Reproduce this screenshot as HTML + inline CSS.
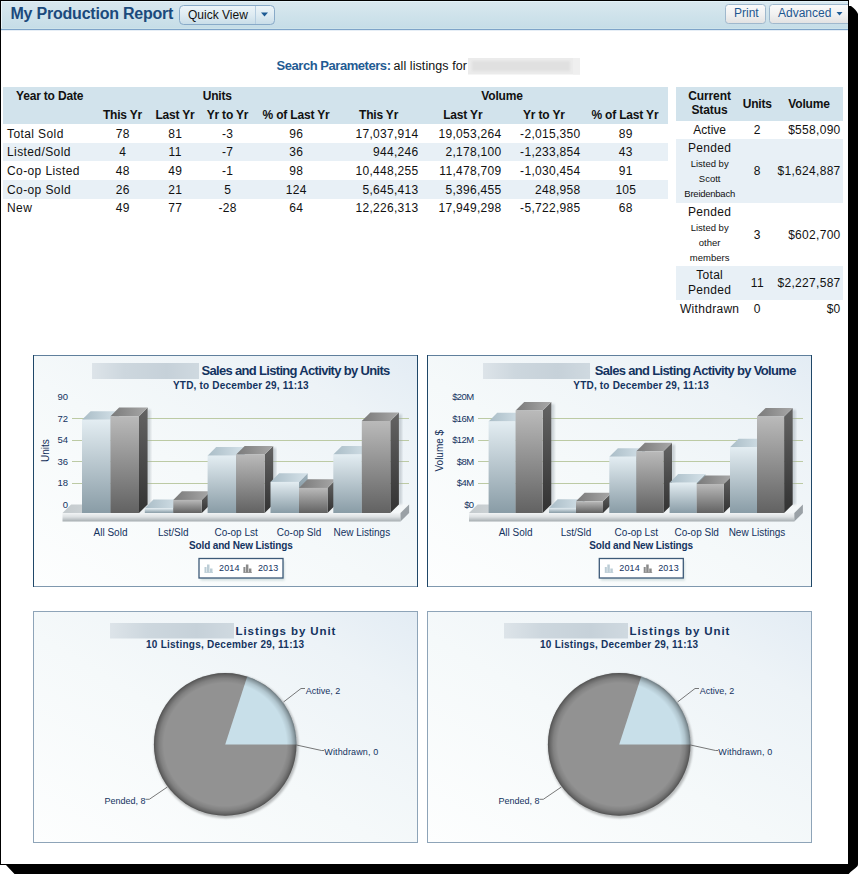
<!DOCTYPE html>
<html><head><meta charset="utf-8"><title>My Production Report</title>
<style>
html,body{margin:0;padding:0;width:864px;height:880px;overflow:hidden;background:#fff;font-family:"Liberation Sans", sans-serif;}
#shadow{position:absolute;left:0;top:0;}
#win{position:absolute;left:0;top:0;width:849px;height:865px;background:#fff;overflow:hidden;}
#win svg{position:absolute;left:0;top:0;}
text{font-family:"Liberation Sans", sans-serif;}
.bt{position:absolute;background:#000;}
</style></head><body>
<svg id="shadow" width="864" height="880"><path d="M6 6H851L853.5 8L855.5 10L857 12L858 14V864.3L857.6 866L855.5 868L853 870L850.5 872L848.7 874H14.5L6 865Z" fill="#000"/></svg>
<div id="win">
<svg width="864" height="880" viewBox="0 0 864 880">

<defs>
 <linearGradient id="hdr" x1="0" y1="0" x2="0" y2="1">
  <stop offset="0" stop-color="#d9e8ef"/><stop offset="1" stop-color="#c5dde7"/>
 </linearGradient>
 <linearGradient id="btn" x1="0" y1="0" x2="0" y2="1">
  <stop offset="0" stop-color="#edf5f9"/><stop offset="0.5" stop-color="#deebf2"/><stop offset="1" stop-color="#c8dde8"/>
 </linearGradient>
 <linearGradient id="btn2" x1="0" y1="0" x2="0" y2="1">
  <stop offset="0" stop-color="#fbfbfb"/><stop offset="0.5" stop-color="#f1f1f1"/><stop offset="1" stop-color="#e2e2e2"/>
 </linearGradient>
 <linearGradient id="chbg" x1="0" y1="1" x2="1" y2="0">
  <stop offset="0" stop-color="#fdfefe"/><stop offset="0.45" stop-color="#f5f9fa"/><stop offset="0.8" stop-color="#edf3f7"/><stop offset="1" stop-color="#e3ecf4"/>
 </linearGradient>
 <linearGradient id="blur" x1="0" y1="0" x2="1" y2="0">
  <stop offset="0" stop-color="#dde4e9"/><stop offset="0.3" stop-color="#cdd7de"/><stop offset="0.7" stop-color="#c6d1d9"/><stop offset="1" stop-color="#cfd9e0"/>
 </linearGradient>
 <linearGradient id="lf" x1="0" y1="0" x2="0" y2="1">
  <stop offset="0" stop-color="#e3edf2"/><stop offset="1" stop-color="#899ca6"/>
 </linearGradient>
 <linearGradient id="lfh" x1="0" y1="0" x2="1" y2="0">
  <stop offset="0" stop-color="#000" stop-opacity="0.06"/><stop offset="0.5" stop-color="#fff" stop-opacity="0.08"/><stop offset="1" stop-color="#000" stop-opacity="0.04"/>
 </linearGradient>
 <linearGradient id="lt" x1="0" y1="0" x2="1" y2="0">
  <stop offset="0" stop-color="#aabdc7"/><stop offset="1" stop-color="#d5e2e9"/>
 </linearGradient>
 <linearGradient id="df" x1="0" y1="0" x2="0" y2="1">
  <stop offset="0" stop-color="#bababa"/><stop offset="1" stop-color="#626262"/>
 </linearGradient>
 <linearGradient id="dt" x1="0" y1="0" x2="1" y2="0">
  <stop offset="0" stop-color="#7a7a7a"/><stop offset="1" stop-color="#a8a8a8"/>
 </linearGradient>
 <linearGradient id="ds" x1="0" y1="0" x2="0" y2="1">
  <stop offset="0" stop-color="#646464"/><stop offset="1" stop-color="#323232"/>
 </linearGradient>
 <linearGradient id="ls" x1="0" y1="0" x2="0" y2="1">
  <stop offset="0" stop-color="#9fb2bc"/><stop offset="1" stop-color="#6d808a"/>
 </linearGradient>
 <linearGradient id="floorf" x1="0" y1="0" x2="0" y2="1">
  <stop offset="0" stop-color="#f2f4f5"/><stop offset="0.45" stop-color="#dde1e3"/><stop offset="1" stop-color="#a5acb0"/>
 </linearGradient>
 <linearGradient id="floort" x1="0" y1="0" x2="1" y2="0">
  <stop offset="0" stop-color="#c4cacd"/><stop offset="0.055" stop-color="#cad0d3"/><stop offset="0.1" stop-color="#eaeef0"/><stop offset="1" stop-color="#f4f7f8"/>
 </linearGradient>
 <radialGradient id="pierim" cx="0.5" cy="0.5" r="0.5">
  <stop offset="0.86" stop-color="#000" stop-opacity="0"/><stop offset="0.925" stop-color="#000" stop-opacity="0.12"/><stop offset="0.972" stop-color="#000" stop-opacity="0.3"/><stop offset="1" stop-color="#000" stop-opacity="0.45"/>
 </radialGradient>
 <filter id="sh" x="-10%" y="-10%" width="130%" height="130%"><feGaussianBlur stdDeviation="1"/></filter>
 <filter id="sb" x="-5%" y="-20%" width="110%" height="140%"><feGaussianBlur stdDeviation="0.5"/></filter>
</defs>

<rect x="1" y="1" width="847" height="28" fill="url(#hdr)"/>
<rect x="1" y="1" width="847" height="1" fill="#e3f2f9"/>
<rect x="1" y="1" width="1" height="28" fill="#eaf5fa"/>
<rect x="1" y="28" width="847" height="1" fill="#cde3ea"/>
<rect x="1" y="29" width="847" height="1" fill="#7ea4c9"/>
<rect x="1" y="30" width="847" height="1" fill="#e6eef6"/>
<text x="10.5" y="19" font-size="16" font-weight="bold" fill="#1b4a7c" letter-spacing="-0.22">My Production Report</text>
<rect x="179.5" y="5.5" width="95" height="19" rx="4" fill="url(#btn)" stroke="#88aac8"/>
<rect x="255" y="6" width="1" height="18" fill="#b5cde0"/>
<text x="188" y="19" font-size="12" fill="#111">Quick View</text>
<path d="M261 12.5h7l-3.5 4z" fill="#1d5a94"/>
<rect x="725.5" y="4.5" width="40" height="19" rx="3" fill="url(#btn2)" stroke="#9fb8cd"/>
<text x="734" y="17" font-size="12" fill="#1d5790">Print</text>
<rect x="769.5" y="4.5" width="90" height="19" rx="3" fill="url(#btn2)" stroke="#9fb8cd"/>
<text x="778" y="17" font-size="12" fill="#1d5790">Advanced</text>
<path d="M836.5 12h6l-3 3.5z" fill="#1d5a94"/>
<text x="276.5" y="70" font-size="13" font-weight="bold" fill="#1f5b93" letter-spacing="-0.45">Search Parameters:</text>
<text x="393.5" y="70" font-size="12.5" fill="#111" letter-spacing="0.08">all listings for</text>
<rect x="468" y="58" width="112" height="16.5" fill="#ebebeb"/>
<rect x="472" y="61" width="98" height="10" fill="#e0e0e0" filter="url(#sh)"/>
<rect x="573" y="58" width="7" height="16.5" fill="#efefef"/>
<rect x="3" y="87" width="665" height="37" fill="#d2e3ec"/>
<rect x="3" y="143" width="665" height="18" fill="#e8f0f6"/>
<rect x="3" y="180" width="665" height="19" fill="#e8f0f6"/>
<text x="16" y="100" font-size="12" font-weight="bold" fill="#111" letter-spacing="-0.18">Year to Date</text>
<text x="217.3" y="100" font-size="12" font-weight="bold" text-anchor="middle" fill="#111" letter-spacing="-0.18">Units</text>
<text x="502" y="100" font-size="12" font-weight="bold" text-anchor="middle" fill="#111" letter-spacing="-0.18">Volume</text>
<text x="122.5" y="119" font-size="12" font-weight="bold" text-anchor="middle" fill="#111" letter-spacing="-0.18">This Yr</text>
<text x="175" y="119" font-size="12" font-weight="bold" text-anchor="middle" fill="#111" letter-spacing="-0.18">Last Yr</text>
<text x="227.5" y="119" font-size="12" font-weight="bold" text-anchor="middle" fill="#111" letter-spacing="-0.18">Yr to Yr</text>
<text x="296" y="119" font-size="12" font-weight="bold" text-anchor="middle" fill="#111" letter-spacing="-0.18">% of Last Yr</text>
<text x="378.6" y="119" font-size="12" font-weight="bold" text-anchor="middle" fill="#111" letter-spacing="-0.18">This Yr</text>
<text x="462.8" y="119" font-size="12" font-weight="bold" text-anchor="middle" fill="#111" letter-spacing="-0.18">Last Yr</text>
<text x="543.9" y="119" font-size="12" font-weight="bold" text-anchor="middle" fill="#111" letter-spacing="-0.18">Yr to Yr</text>
<text x="624.9" y="119" font-size="12" font-weight="bold" text-anchor="middle" fill="#111" letter-spacing="-0.18">% of Last Yr</text>
<text x="7" y="137.8" font-size="12" fill="#111" letter-spacing="0.4">Total Sold</text>
<text x="122.65" y="137.8" font-size="12" text-anchor="middle" fill="#111" letter-spacing="0.3">78</text>
<text x="175.15" y="137.8" font-size="12" text-anchor="middle" fill="#111" letter-spacing="0.3">81</text>
<text x="227.65" y="137.8" font-size="12" text-anchor="middle" fill="#111" letter-spacing="0.3">-3</text>
<text x="296.15" y="137.8" font-size="12" text-anchor="middle" fill="#111" letter-spacing="0.3">96</text>
<text x="418.5" y="137.8" font-size="12" text-anchor="end" fill="#111" letter-spacing="0.3">17,037,914</text>
<text x="501.5" y="137.8" font-size="12" text-anchor="end" fill="#111" letter-spacing="0.3">19,053,264</text>
<text x="580.5" y="137.8" font-size="12" text-anchor="end" fill="#111" letter-spacing="0.3">-2,015,350</text>
<text x="625.85" y="137.8" font-size="12" text-anchor="middle" fill="#111" letter-spacing="0.3">89</text>
<text x="7" y="156.3" font-size="12" fill="#111" letter-spacing="0.4">Listed/Sold</text>
<text x="122.65" y="156.3" font-size="12" text-anchor="middle" fill="#111" letter-spacing="0.3">4</text>
<text x="175.15" y="156.3" font-size="12" text-anchor="middle" fill="#111" letter-spacing="0.3">11</text>
<text x="227.65" y="156.3" font-size="12" text-anchor="middle" fill="#111" letter-spacing="0.3">-7</text>
<text x="296.15" y="156.3" font-size="12" text-anchor="middle" fill="#111" letter-spacing="0.3">36</text>
<text x="418.5" y="156.3" font-size="12" text-anchor="end" fill="#111" letter-spacing="0.3">944,246</text>
<text x="501.5" y="156.3" font-size="12" text-anchor="end" fill="#111" letter-spacing="0.3">2,178,100</text>
<text x="580.5" y="156.3" font-size="12" text-anchor="end" fill="#111" letter-spacing="0.3">-1,233,854</text>
<text x="625.85" y="156.3" font-size="12" text-anchor="middle" fill="#111" letter-spacing="0.3">43</text>
<text x="7" y="174.8" font-size="12" fill="#111" letter-spacing="0.4">Co-op Listed</text>
<text x="122.65" y="174.8" font-size="12" text-anchor="middle" fill="#111" letter-spacing="0.3">48</text>
<text x="175.15" y="174.8" font-size="12" text-anchor="middle" fill="#111" letter-spacing="0.3">49</text>
<text x="227.65" y="174.8" font-size="12" text-anchor="middle" fill="#111" letter-spacing="0.3">-1</text>
<text x="296.15" y="174.8" font-size="12" text-anchor="middle" fill="#111" letter-spacing="0.3">98</text>
<text x="418.5" y="174.8" font-size="12" text-anchor="end" fill="#111" letter-spacing="0.3">10,448,255</text>
<text x="501.5" y="174.8" font-size="12" text-anchor="end" fill="#111" letter-spacing="0.3">11,478,709</text>
<text x="580.5" y="174.8" font-size="12" text-anchor="end" fill="#111" letter-spacing="0.3">-1,030,454</text>
<text x="625.85" y="174.8" font-size="12" text-anchor="middle" fill="#111" letter-spacing="0.3">91</text>
<text x="7" y="193.8" font-size="12" fill="#111" letter-spacing="0.4">Co-op Sold</text>
<text x="122.65" y="193.8" font-size="12" text-anchor="middle" fill="#111" letter-spacing="0.3">26</text>
<text x="175.15" y="193.8" font-size="12" text-anchor="middle" fill="#111" letter-spacing="0.3">21</text>
<text x="227.65" y="193.8" font-size="12" text-anchor="middle" fill="#111" letter-spacing="0.3">5</text>
<text x="296.15" y="193.8" font-size="12" text-anchor="middle" fill="#111" letter-spacing="0.3">124</text>
<text x="418.5" y="193.8" font-size="12" text-anchor="end" fill="#111" letter-spacing="0.3">5,645,413</text>
<text x="501.5" y="193.8" font-size="12" text-anchor="end" fill="#111" letter-spacing="0.3">5,396,455</text>
<text x="580.5" y="193.8" font-size="12" text-anchor="end" fill="#111" letter-spacing="0.3">248,958</text>
<text x="625.85" y="193.8" font-size="12" text-anchor="middle" fill="#111" letter-spacing="0.3">105</text>
<text x="7" y="212.3" font-size="12" fill="#111" letter-spacing="0.4">New</text>
<text x="122.65" y="212.3" font-size="12" text-anchor="middle" fill="#111" letter-spacing="0.3">49</text>
<text x="175.15" y="212.3" font-size="12" text-anchor="middle" fill="#111" letter-spacing="0.3">77</text>
<text x="227.65" y="212.3" font-size="12" text-anchor="middle" fill="#111" letter-spacing="0.3">-28</text>
<text x="296.15" y="212.3" font-size="12" text-anchor="middle" fill="#111" letter-spacing="0.3">64</text>
<text x="418.5" y="212.3" font-size="12" text-anchor="end" fill="#111" letter-spacing="0.3">12,226,313</text>
<text x="501.5" y="212.3" font-size="12" text-anchor="end" fill="#111" letter-spacing="0.3">17,949,298</text>
<text x="580.5" y="212.3" font-size="12" text-anchor="end" fill="#111" letter-spacing="0.3">-5,722,985</text>
<text x="625.85" y="212.3" font-size="12" text-anchor="middle" fill="#111" letter-spacing="0.3">68</text>
<rect x="676" y="87" width="167" height="34" fill="#d2e3ec"/>
<rect x="676" y="139" width="167" height="64" fill="#e8f0f6"/>
<rect x="676" y="266" width="167" height="34" fill="#e8f0f6"/>
<text x="709.5" y="99.5" font-size="12" font-weight="bold" text-anchor="middle" fill="#111" letter-spacing="-0.1">Current</text>
<text x="709.5" y="114.3" font-size="12" font-weight="bold" text-anchor="middle" fill="#111" letter-spacing="-0.1">Status</text>
<text x="757.2" y="107.6" font-size="12" font-weight="bold" text-anchor="middle" fill="#111" letter-spacing="-0.18">Units</text>
<text x="809" y="107.6" font-size="12" font-weight="bold" text-anchor="middle" fill="#111" letter-spacing="-0.18">Volume</text>
<text x="709.65" y="134" font-size="12" text-anchor="middle" fill="#111">Active</text>
<text x="757.35" y="134" font-size="12" text-anchor="middle" fill="#111" letter-spacing="0.3">2</text>
<text x="840.6" y="134" font-size="12" text-anchor="end" fill="#111" letter-spacing="0.3">$558,090</text>
<text x="709.65" y="151.5" font-size="12" text-anchor="middle" fill="#111" letter-spacing="0.3">Pended</text>
<text x="709.65" y="167.3" font-size="9.5" text-anchor="middle" fill="#111">Listed by</text>
<text x="709.65" y="182.3" font-size="9.5" text-anchor="middle" fill="#111">Scott</text>
<text x="709.65" y="197.3" font-size="9.5" text-anchor="middle" fill="#111" letter-spacing="-0.25">Breidenbach</text>
<text x="757.35" y="175" font-size="12" text-anchor="middle" fill="#111" letter-spacing="0.3">8</text>
<text x="840.6" y="175" font-size="12" text-anchor="end" fill="#111" letter-spacing="0.3">$1,624,887</text>
<text x="709.65" y="215.5" font-size="12" text-anchor="middle" fill="#111" letter-spacing="0.3">Pended</text>
<text x="709.65" y="231.3" font-size="9.5" text-anchor="middle" fill="#111">Listed by</text>
<text x="709.65" y="246.3" font-size="9.5" text-anchor="middle" fill="#111">other</text>
<text x="709.65" y="261.3" font-size="9.5" text-anchor="middle" fill="#111">members</text>
<text x="757.35" y="239" font-size="12" text-anchor="middle" fill="#111" letter-spacing="0.3">3</text>
<text x="840.6" y="239" font-size="12" text-anchor="end" fill="#111" letter-spacing="0.3">$602,700</text>
<text x="709.65" y="279.4" font-size="12" text-anchor="middle" fill="#111" letter-spacing="0.3">Total</text>
<text x="709.65" y="294" font-size="12" text-anchor="middle" fill="#111" letter-spacing="0.3">Pended</text>
<text x="757.35" y="286.5" font-size="12" text-anchor="middle" fill="#111" letter-spacing="0.3">11</text>
<text x="840.6" y="286.5" font-size="12" text-anchor="end" fill="#111" letter-spacing="0.3">$2,227,587</text>
<text x="709.65" y="313" font-size="12" text-anchor="middle" fill="#111" letter-spacing="0.3">Withdrawn</text>
<text x="757.35" y="313" font-size="12" text-anchor="middle" fill="#111" letter-spacing="0.3">0</text>
<text x="840.6" y="313" font-size="12" text-anchor="end" fill="#111" letter-spacing="0.3">$0</text>
<rect x="33.5" y="355.5" width="384" height="231" fill="url(#chbg)" stroke="#7f98ae"/>
<rect x="33" y="355" width="385" height="1" fill="#5f7f9c"/>
<rect x="33" y="355" width="1" height="232" fill="#1f4768"/>
<rect x="417" y="355" width="1" height="232" fill="#1f4768"/>
<rect x="92" y="363" width="107" height="16" fill="url(#blur)" filter="url(#sb)"/>
<text x="201.5" y="375.3" font-size="13" font-weight="bold" fill="#14335f" letter-spacing="-0.68">Sales and Listing Activity by Units</text>
<text x="240.9" y="388.6" font-size="10" font-weight="bold" text-anchor="middle" fill="#14335f" letter-spacing="0.2">YTD, to December 29, 11:13</text>
<text x="68" y="507.5" font-size="9.5" text-anchor="end" fill="#14335f">0</text>
<rect x="72" y="483" width="337" height="1" fill="#bccaa4"/>
<text x="68" y="486.0" font-size="9.5" text-anchor="end" fill="#14335f">18</text>
<rect x="72" y="461" width="337" height="1" fill="#bccaa4"/>
<text x="68" y="464.5" font-size="9.5" text-anchor="end" fill="#14335f">36</text>
<rect x="72" y="440" width="337" height="1" fill="#bccaa4"/>
<text x="68" y="443.0" font-size="9.5" text-anchor="end" fill="#14335f">54</text>
<rect x="72" y="418" width="337" height="1" fill="#bccaa4"/>
<text x="68" y="421.5" font-size="9.5" text-anchor="end" fill="#14335f">72</text>
<text x="68" y="400.0" font-size="9.5" text-anchor="end" fill="#14335f">90</text>
<text x="0" y="0" font-size="10" fill="#14305a" text-anchor="middle" transform="translate(49.3,450.7) rotate(-90)">Units</text>
<path d="M62.5 513 L71.1 504.4 L409.1 504.4 L400.5 513 Z" fill="url(#floort)"/>
<rect x="62.5" y="513" width="338.0" height="8.5" fill="url(#floorf)"/>
<path d="M400.5 513 L409.1 504.4 L409.1 512.9 L400.5 521.5 Z" fill="#9aa1a6"/>
<path d="M110.5 419.8 L119.1 411.2 L119.1 504.4 L110.5 513 Z" fill="url(#ls)"/>
<path d="M82.0 419.8 L90.6 411.2 L119.1 411.2 L110.5 419.8 Z" fill="url(#lt)"/>
<rect x="82.0" y="419.8" width="28.5" height="93.2" fill="url(#lf)"/>
<rect x="146.6" y="409.6" width="4" height="94.8" fill="#9aa4ab" opacity="0.45" filter="url(#sh)"/>
<path d="M139.0 416.2 L147.6 407.6 L147.6 504.4 L139.0 513 Z" fill="url(#ds)"/>
<path d="M110.5 416.2 L119.1 407.6 L147.6 407.6 L139.0 416.2 Z" fill="url(#dt)"/>
<rect x="110.5" y="416.2" width="28.5" height="96.8" fill="url(#df)"/>
<path d="M173.3 508.2 L181.9 499.6 L181.9 504.4 L173.3 513 Z" fill="url(#ls)"/>
<path d="M144.8 508.2 L153.4 499.6 L181.9 499.6 L173.3 508.2 Z" fill="url(#lt)"/>
<rect x="144.8" y="508.2" width="28.5" height="4.8" fill="url(#lf)"/>
<rect x="209.4" y="493.3" width="4" height="11.1" fill="#9aa4ab" opacity="0.45" filter="url(#sh)"/>
<path d="M201.8 499.9 L210.4 491.3 L210.4 504.4 L201.8 513 Z" fill="url(#ds)"/>
<path d="M173.3 499.9 L181.9 491.3 L210.4 491.3 L201.8 499.9 Z" fill="url(#dt)"/>
<rect x="173.3" y="499.9" width="28.5" height="13.1" fill="url(#df)"/>
<path d="M236.1 455.7 L244.7 447.1 L244.7 504.4 L236.1 513 Z" fill="url(#ls)"/>
<path d="M207.6 455.7 L216.2 447.1 L244.7 447.1 L236.1 455.7 Z" fill="url(#lt)"/>
<rect x="207.6" y="455.7" width="28.5" height="57.3" fill="url(#lf)"/>
<rect x="272.2" y="447.9" width="4" height="56.5" fill="#9aa4ab" opacity="0.45" filter="url(#sh)"/>
<path d="M264.6 454.5 L273.2 445.9 L273.2 504.4 L264.6 513 Z" fill="url(#ds)"/>
<path d="M236.1 454.5 L244.7 445.9 L273.2 445.9 L264.6 454.5 Z" fill="url(#dt)"/>
<rect x="236.1" y="454.5" width="28.5" height="58.5" fill="url(#df)"/>
<path d="M299.0 481.9 L307.6 473.3 L307.6 504.4 L299.0 513 Z" fill="url(#ls)"/>
<path d="M270.5 481.9 L279.1 473.3 L307.6 473.3 L299.0 481.9 Z" fill="url(#lt)"/>
<rect x="270.5" y="481.9" width="28.5" height="31.1" fill="url(#lf)"/>
<rect x="335.1" y="481.3" width="4" height="23.1" fill="#9aa4ab" opacity="0.45" filter="url(#sh)"/>
<path d="M327.5 487.9 L336.1 479.3 L336.1 504.4 L327.5 513 Z" fill="url(#ds)"/>
<path d="M299.0 487.9 L307.6 479.3 L336.1 479.3 L327.5 487.9 Z" fill="url(#dt)"/>
<rect x="299.0" y="487.9" width="28.5" height="25.1" fill="url(#df)"/>
<path d="M361.8 454.5 L370.4 445.9 L370.4 504.4 L361.8 513 Z" fill="url(#ls)"/>
<path d="M333.3 454.5 L341.9 445.9 L370.4 445.9 L361.8 454.5 Z" fill="url(#lt)"/>
<rect x="333.3" y="454.5" width="28.5" height="58.5" fill="url(#lf)"/>
<rect x="397.9" y="414.4" width="4" height="90.0" fill="#9aa4ab" opacity="0.45" filter="url(#sh)"/>
<path d="M390.3 421.0 L398.9 412.4 L398.9 504.4 L390.3 513 Z" fill="url(#ds)"/>
<path d="M361.8 421.0 L370.4 412.4 L398.9 412.4 L390.3 421.0 Z" fill="url(#dt)"/>
<rect x="361.8" y="421.0" width="28.5" height="92.0" fill="url(#df)"/>
<text x="110.5" y="536" font-size="10" text-anchor="middle" fill="#14335f">All Sold</text>
<text x="173.3" y="536" font-size="10" text-anchor="middle" fill="#14335f">Lst/Sld</text>
<text x="236.1" y="536" font-size="10" text-anchor="middle" fill="#14335f">Co-op Lst</text>
<text x="299.0" y="536" font-size="10" text-anchor="middle" fill="#14335f">Co-op Sld</text>
<text x="361.8" y="536" font-size="10" text-anchor="middle" fill="#14335f">New Listings</text>
<text x="240.8" y="549" font-size="10" font-weight="bold" text-anchor="middle" fill="#14335f" letter-spacing="-0.15">Sold and New Listings</text>
<rect x="200.5" y="560.5" width="84" height="20" fill="#8aa" opacity="0.35" filter="url(#sh)"/>
<rect x="199" y="558.5" width="84" height="19.5" fill="#fff" stroke="#3d5a78" stroke-width="1.3"/>
<rect x="204.5" y="567" width="2" height="5.5" fill="#bccdd6"/><rect x="207.0" y="564.5" width="2.5" height="8" fill="#bccdd6"/><rect x="210.0" y="568.5" width="2.5" height="4" fill="#bccdd6"/><rect x="204.5" y="572" width="8.5" height="0.8" fill="#bccdd6"/>
<text x="219" y="570.8" font-size="9" fill="#14335f" letter-spacing="0.15">2014</text>
<rect x="243.4" y="567" width="2" height="5.5" fill="#8a8a8a"/><rect x="245.9" y="564.5" width="2.5" height="8" fill="#8a8a8a"/><rect x="248.9" y="568.5" width="2.5" height="4" fill="#8a8a8a"/><rect x="243.4" y="572" width="8.5" height="0.8" fill="#8a8a8a"/>
<text x="257.9" y="570.8" font-size="9" fill="#14335f" letter-spacing="0.15">2013</text>
<rect x="427.5" y="355.5" width="384" height="231" fill="url(#chbg)" stroke="#7f98ae"/>
<rect x="427" y="355" width="385" height="1" fill="#5f7f9c"/>
<rect x="427" y="355" width="1" height="232" fill="#1f4768"/>
<rect x="811" y="355" width="1" height="232" fill="#1f4768"/>
<rect x="483" y="363" width="107" height="16" fill="url(#blur)" filter="url(#sb)"/>
<text x="594.8" y="375.3" font-size="13" font-weight="bold" fill="#14335f" letter-spacing="-0.68">Sales and Listing Activity by Volume</text>
<text x="641.2" y="388.6" font-size="10" font-weight="bold" text-anchor="middle" fill="#14335f" letter-spacing="0.2">YTD, to December 29, 11:13</text>
<text x="473.5" y="507.5" font-size="9.5" text-anchor="end" fill="#14335f" letter-spacing="-0.6">$0</text>
<rect x="478" y="483" width="325" height="1" fill="#bccaa4"/>
<text x="473.5" y="486.0" font-size="9.5" text-anchor="end" fill="#14335f" letter-spacing="-0.6">$4M</text>
<rect x="478" y="461" width="325" height="1" fill="#bccaa4"/>
<text x="473.5" y="464.5" font-size="9.5" text-anchor="end" fill="#14335f" letter-spacing="-0.6">$8M</text>
<rect x="478" y="440" width="325" height="1" fill="#bccaa4"/>
<text x="473.5" y="443.0" font-size="9.5" text-anchor="end" fill="#14335f" letter-spacing="-0.6">$12M</text>
<rect x="478" y="418" width="325" height="1" fill="#bccaa4"/>
<text x="473.5" y="421.5" font-size="9.5" text-anchor="end" fill="#14335f" letter-spacing="-0.6">$16M</text>
<text x="473.5" y="400.0" font-size="9.5" text-anchor="end" fill="#14335f" letter-spacing="-0.6">$20M</text>
<text x="0" y="0" font-size="10" fill="#14305a" text-anchor="middle" transform="translate(442.8,450.7) rotate(-90)">Volume $</text>
<path d="M469 513 L477.6 504.4 L802.9 504.4 L794.3 513 Z" fill="url(#floort)"/>
<rect x="469" y="513" width="325.29999999999995" height="8.5" fill="url(#floorf)"/>
<path d="M794.3 513 L802.9 504.4 L802.9 512.9 L794.3 521.5 Z" fill="#9aa1a6"/>
<path d="M515.6 421.4 L524.2 412.8 L524.2 504.4 L515.6 513 Z" fill="url(#ls)"/>
<path d="M488.6 421.4 L497.2 412.8 L524.2 412.8 L515.6 421.4 Z" fill="url(#lt)"/>
<rect x="488.6" y="421.4" width="27.05" height="91.6" fill="url(#lf)"/>
<rect x="550.3" y="404.0" width="4" height="100.4" fill="#9aa4ab" opacity="0.45" filter="url(#sh)"/>
<path d="M542.7 410.6 L551.3 402.0 L551.3 504.4 L542.7 513 Z" fill="url(#ds)"/>
<path d="M515.6 410.6 L524.2 402.0 L551.3 402.0 L542.7 410.6 Z" fill="url(#dt)"/>
<rect x="515.6" y="410.6" width="27.05" height="102.4" fill="url(#df)"/>
<path d="M576.0 507.9 L584.6 499.3 L584.6 504.4 L576.0 513 Z" fill="url(#ls)"/>
<path d="M549.0 507.9 L557.6 499.3 L584.6 499.3 L576.0 507.9 Z" fill="url(#lt)"/>
<rect x="549.0" y="507.9" width="27.05" height="5.1" fill="url(#lf)"/>
<rect x="610.6" y="494.7" width="4" height="9.7" fill="#9aa4ab" opacity="0.45" filter="url(#sh)"/>
<path d="M603.0 501.3 L611.6 492.7 L611.6 504.4 L603.0 513 Z" fill="url(#ds)"/>
<path d="M576.0 501.3 L584.6 492.7 L611.6 492.7 L603.0 501.3 Z" fill="url(#dt)"/>
<rect x="576.0" y="501.3" width="27.05" height="11.7" fill="url(#df)"/>
<path d="M636.3 456.8 L644.9 448.2 L644.9 504.4 L636.3 513 Z" fill="url(#ls)"/>
<path d="M609.3 456.8 L617.9 448.2 L644.9 448.2 L636.3 456.8 Z" fill="url(#lt)"/>
<rect x="609.3" y="456.8" width="27.05" height="56.2" fill="url(#lf)"/>
<rect x="671.0" y="444.7" width="4" height="59.7" fill="#9aa4ab" opacity="0.45" filter="url(#sh)"/>
<path d="M663.4 451.3 L672.0 442.7 L672.0 504.4 L663.4 513 Z" fill="url(#ds)"/>
<path d="M636.3 451.3 L644.9 442.7 L672.0 442.7 L663.4 451.3 Z" fill="url(#dt)"/>
<rect x="636.3" y="451.3" width="27.05" height="61.7" fill="url(#df)"/>
<path d="M696.7 482.7 L705.3 474.1 L705.3 504.4 L696.7 513 Z" fill="url(#ls)"/>
<path d="M669.6 482.7 L678.2 474.1 L705.3 474.1 L696.7 482.7 Z" fill="url(#lt)"/>
<rect x="669.6" y="482.7" width="27.05" height="30.3" fill="url(#lf)"/>
<rect x="731.3" y="477.4" width="4" height="27.0" fill="#9aa4ab" opacity="0.45" filter="url(#sh)"/>
<path d="M723.7 484.0 L732.3 475.4 L732.3 504.4 L723.7 513 Z" fill="url(#ds)"/>
<path d="M696.7 484.0 L705.3 475.4 L732.3 475.4 L723.7 484.0 Z" fill="url(#dt)"/>
<rect x="696.7" y="484.0" width="27.05" height="29.0" fill="url(#df)"/>
<path d="M757.0 447.3 L765.6 438.7 L765.6 504.4 L757.0 513 Z" fill="url(#ls)"/>
<path d="M730.0 447.3 L738.6 438.7 L765.6 438.7 L757.0 447.3 Z" fill="url(#lt)"/>
<rect x="730.0" y="447.3" width="27.05" height="65.7" fill="url(#lf)"/>
<rect x="791.7" y="409.9" width="4" height="94.5" fill="#9aa4ab" opacity="0.45" filter="url(#sh)"/>
<path d="M784.1 416.5 L792.7 407.9 L792.7 504.4 L784.1 513 Z" fill="url(#ds)"/>
<path d="M757.0 416.5 L765.6 407.9 L792.7 407.9 L784.1 416.5 Z" fill="url(#dt)"/>
<rect x="757.0" y="416.5" width="27.05" height="96.5" fill="url(#df)"/>
<text x="515.6" y="536" font-size="10" text-anchor="middle" fill="#14335f">All Sold</text>
<text x="576.0" y="536" font-size="10" text-anchor="middle" fill="#14335f">Lst/Sld</text>
<text x="636.3" y="536" font-size="10" text-anchor="middle" fill="#14335f">Co-op Lst</text>
<text x="696.7" y="536" font-size="10" text-anchor="middle" fill="#14335f">Co-op Sld</text>
<text x="757.0" y="536" font-size="10" text-anchor="middle" fill="#14335f">New Listings</text>
<text x="641.1" y="549" font-size="10" font-weight="bold" text-anchor="middle" fill="#14335f" letter-spacing="-0.15">Sold and New Listings</text>
<rect x="600.8" y="560.5" width="84" height="20" fill="#8aa" opacity="0.35" filter="url(#sh)"/>
<rect x="599.3" y="558.5" width="84" height="19.5" fill="#fff" stroke="#3d5a78" stroke-width="1.3"/>
<rect x="604.8" y="567" width="2" height="5.5" fill="#bccdd6"/><rect x="607.3" y="564.5" width="2.5" height="8" fill="#bccdd6"/><rect x="610.3" y="568.5" width="2.5" height="4" fill="#bccdd6"/><rect x="604.8" y="572" width="8.5" height="0.8" fill="#bccdd6"/>
<text x="619.3" y="570.8" font-size="9" fill="#14335f" letter-spacing="0.15">2014</text>
<rect x="643.6999999999999" y="567" width="2" height="5.5" fill="#8a8a8a"/><rect x="646.1999999999999" y="564.5" width="2.5" height="8" fill="#8a8a8a"/><rect x="649.1999999999999" y="568.5" width="2.5" height="4" fill="#8a8a8a"/><rect x="643.6999999999999" y="572" width="8.5" height="0.8" fill="#8a8a8a"/>
<text x="658.1999999999999" y="570.8" font-size="9" fill="#14335f" letter-spacing="0.15">2013</text>
<rect x="33.5" y="611.5" width="384" height="231" fill="url(#chbg)" stroke="#8ea4b8"/>
<rect x="110" y="623" width="124" height="15.5" fill="url(#blur)" filter="url(#sb)"/>
<text x="235.6" y="635.4" font-size="11.5" font-weight="bold" fill="#14335f" letter-spacing="0.9">Listings by Unit</text>
<text x="146" y="648.1" font-size="10" font-weight="bold" fill="#14335f" letter-spacing="0.25">10 Listings, December 29, 11:13</text>
<circle cx="226.2" cy="745.9" r="72.3" fill="#000" opacity="0.25" filter="url(#sh)"/>
<circle cx="225.2" cy="744.4" r="71.3" fill="#929292"/>
<path d="M225.2 744.4 L296.5 744.4 A71.3 71.3 0 0 0 247.23 676.59 Z" fill="#c8dfe9"/>
<circle cx="225.2" cy="744.4" r="71.3" fill="url(#pierim)"/>
<path d="M283.5 702 L301 688.5 L305 688.5" fill="none" stroke="#555" stroke-width="0.8"/>
<text x="305.7" y="694.3" font-size="9" fill="#14335f">Active, 2</text>
<path d="M296.5 745 L321.5 750.5 L324 750.5" fill="none" stroke="#555" stroke-width="0.8"/>
<text x="324.3" y="755" font-size="9" fill="#14335f" letter-spacing="0.12">Withdrawn, 0</text>
<path d="M167.4 787 L149.3 799.3 L145.5 799.3" fill="none" stroke="#555" stroke-width="0.8"/>
<text x="104.4" y="804" font-size="9" fill="#14335f">Pended, 8</text>
<rect x="427.5" y="611.5" width="384" height="231" fill="url(#chbg)" stroke="#8ea4b8"/>
<rect x="504" y="623" width="124" height="15.5" fill="url(#blur)" filter="url(#sb)"/>
<text x="629.6" y="635.4" font-size="11.5" font-weight="bold" fill="#14335f" letter-spacing="0.9">Listings by Unit</text>
<text x="540" y="648.1" font-size="10" font-weight="bold" fill="#14335f" letter-spacing="0.25">10 Listings, December 29, 11:13</text>
<circle cx="620.2" cy="745.9" r="72.3" fill="#000" opacity="0.25" filter="url(#sh)"/>
<circle cx="619.2" cy="744.4" r="71.3" fill="#929292"/>
<path d="M619.2 744.4 L690.5 744.4 A71.3 71.3 0 0 0 641.23 676.59 Z" fill="#c8dfe9"/>
<circle cx="619.2" cy="744.4" r="71.3" fill="url(#pierim)"/>
<path d="M677.5 702 L695 688.5 L699 688.5" fill="none" stroke="#555" stroke-width="0.8"/>
<text x="699.7" y="694.3" font-size="9" fill="#14335f">Active, 2</text>
<path d="M690.5 745 L715.5 750.5 L718 750.5" fill="none" stroke="#555" stroke-width="0.8"/>
<text x="718.3" y="755" font-size="9" fill="#14335f" letter-spacing="0.12">Withdrawn, 0</text>
<path d="M561.4 787 L543.3 799.3 L539.5 799.3" fill="none" stroke="#555" stroke-width="0.8"/>
<text x="498.4" y="804" font-size="9" fill="#14335f">Pended, 8</text>

</svg>
<div class="bt" style="left:0;top:0;width:849px;height:1px"></div>
<div class="bt" style="left:0;top:0;width:1px;height:865px"></div>
<div class="bt" style="left:848px;top:0;width:1px;height:865px"></div>
<div class="bt" style="left:0;top:864px;width:849px;height:1px"></div>
</div>
</body></html>
